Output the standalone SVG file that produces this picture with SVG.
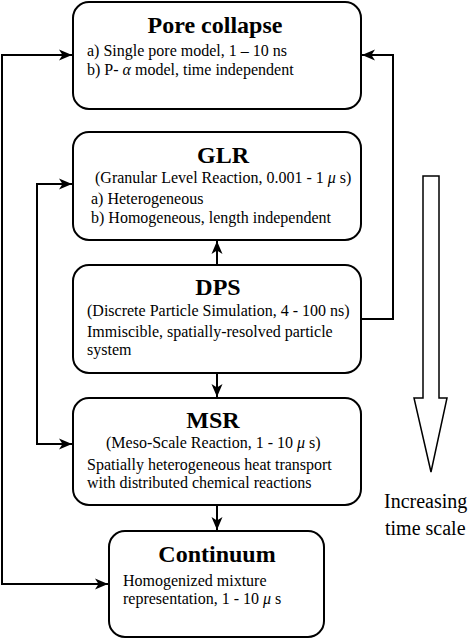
<svg xmlns="http://www.w3.org/2000/svg" width="474" height="640" viewBox="0 0 474 640">
<style>
.box{fill:#fff;stroke:#000;stroke-width:2}
.title{font-family:"Liberation Serif","Times New Roman",serif;font-weight:bold;font-size:24px;text-anchor:middle;fill:#000}
.t{font-family:"Liberation Serif","Times New Roman",serif;font-size:16px;fill:#000}
.i{font-style:italic}
.ln{fill:none;stroke:#000;stroke-width:2}
.big{font-family:"Liberation Serif","Times New Roman",serif;font-size:20px;fill:#000}
</style>
<defs>
<marker id="ah" markerUnits="userSpaceOnUse" markerWidth="14" markerHeight="14" viewBox="0 0 14 14" refX="13" refY="7" orient="auto-start-reverse">
<path d="M0,1.5 L13,7 L0,12.5 L3.5,7 Z" fill="#000"/>
</marker>
</defs>
<rect x="0" y="0" width="474" height="640" fill="#fff"/>
<g id="connectors">
<path class="ln" d="M72,55 H2 V584 H108" marker-start="url(#ah)" marker-end="url(#ah)"/>
<path class="ln" d="M72,184 H37 V444 H72" marker-start="url(#ah)" marker-end="url(#ah)"/>
<path class="ln" d="M361,319 H393 V55 H362" marker-end="url(#ah)"/>
<path class="ln" d="M217,265 V241" marker-end="url(#ah)"/>
<path class="ln" d="M217,373 V397" marker-end="url(#ah)"/>
<path class="ln" d="M217,505 V530" marker-end="url(#ah)"/>
</g>
<g id="pore">
<rect class="box" x="73" y="2" width="288" height="107" rx="16"/>
<text class="title" x="215" y="33">Pore collapse</text>
<text class="t" x="87" y="56">a) Single pore model, 1 – 10 ns</text>
<text class="t" x="87" y="75">b) P- <tspan class="i">α</tspan> model, time independent</text>
</g>
<g id="glr">
<rect class="box" x="73" y="132" width="288" height="108" rx="16"/>
<text class="title" x="223" y="163">GLR</text>
<text class="t" x="95" y="183">(Granular Level Reaction, 0.001 - 1 <tspan class="i">μ</tspan> s)</text>
<text class="t" x="91" y="204">a) Heterogeneous</text>
<text class="t" x="91" y="223">b) Homogeneous, length independent</text>
</g>
<g id="dps">
<rect class="box" x="73" y="265" width="288" height="108" rx="16"/>
<text class="title" x="218" y="295">DPS</text>
<text class="t" x="87" y="316">(Discrete Particle Simulation, 4 - 100 ns)</text>
<text class="t" x="87" y="337">Immiscible, spatially-resolved particle</text>
<text class="t" x="87" y="355">system</text>
</g>
<g id="msr">
<rect class="box" x="73" y="398" width="288" height="107" rx="16"/>
<text class="title" x="213" y="428">MSR</text>
<text class="t" x="106" y="448">(Meso-Scale Reaction, 1 - 10 <tspan class="i">μ</tspan> s)</text>
<text class="t" x="87" y="470">Spatially heterogeneous heat transport</text>
<text class="t" x="87" y="488">with distributed chemical reactions</text>
</g>
<g id="continuum">
<rect class="box" x="109" y="531" width="215" height="106" rx="16"/>
<text class="title" x="217" y="562">Continuum</text>
<text class="t" x="123" y="586">Homogenized mixture</text>
<text class="t" x="123" y="604">representation, 1 - 10 <tspan class="i">μ</tspan> s</text>
</g>
<g id="timescale">
<polygon points="423,176 439,176 439,398 447,398 431,472 414,398 423,398" fill="#fff" stroke="#000" stroke-width="1.5"/>
<text class="big" x="384" y="508">Increasing</text>
<text class="big" x="385" y="535">time scale</text>
</g>
</svg>
